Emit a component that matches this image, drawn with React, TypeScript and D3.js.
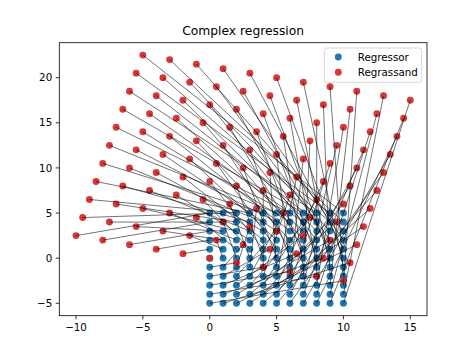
import React from "react";
import * as d3 from "d3";

const regressorX = [0, 1, 2, 3, 4, 5, 6, 7, 8, 9, 10];
const regressorY = [-5, -4, -3, -2, -1, 0, 1, 2, 3, 4, 5];

// Regressand points, one row per regressor y value (regressor x = 0..10)
const regressandRows: [number, number][][] = [
  [[10, -2.5], [10.5, -0.5], [11, 1.5], [11.5, 3.5], [12, 5.5], [12.5, 7.5], [13, 9.5], [13.5, 11.5], [14, 13.5], [14.5, 15.5], [15, 17.5]],
  [[8, -2], [8.5, 0], [9, 2], [9.5, 4], [10, 6], [10.5, 8], [11, 10], [11.5, 12], [12, 14], [12.5, 16], [13, 18]],
  [[6, -1.5], [6.5, 0.5], [7, 2.5], [7.5, 4.5], [8, 6.5], [8.5, 8.5], [9, 10.5], [9.5, 12.5], [10, 14.5], [10.5, 16.5], [11, 18.5]],
  [[4, -1], [4.5, 1], [5, 3], [5.5, 5], [6, 7], [6.5, 9], [7, 11], [7.5, 13], [8, 15], [8.5, 17], [9, 19]],
  [[2, -0.5], [2.5, 1.5], [3, 3.5], [3.5, 5.5], [4, 7.5], [4.5, 9.5], [5, 11.5], [5.5, 13.5], [6, 15.5], [6.5, 17.5], [7, 19.5]],
  [[0, 0], [0.5, 2], [1, 4], [1.5, 6], [2, 8], [2.5, 10], [3, 12], [3.5, 14], [4, 16], [4.5, 18], [5, 20]],
  [[-2, 0.5], [-1.5, 2.5], [-1, 4.5], [-0.5, 6.5], [0, 8.5], [0.5, 10.5], [1, 12.5], [1.5, 14.5], [2, 16.5], [2.5, 18.5], [3, 20.5]],
  [[-4, 1], [-3.5, 3], [-3, 5], [-2.5, 7], [-2, 9], [-1.5, 11], [-1, 13], [-0.5, 15], [0, 17], [0.5, 19], [1, 21]],
  [[-6, 1.5], [-5.5, 3.5], [-5, 5.5], [-4.5, 7.5], [-4, 9.5], [-3.5, 11.5], [-3, 13.5], [-2.5, 15.5], [-2, 17.5], [-1.5, 19.5], [-1, 21.5]],
  [[-8, 2], [-7.5, 4], [-7, 6], [-6.5, 8], [-6, 10], [-5.5, 12], [-5, 14], [-4.5, 16], [-4, 18], [-3.5, 20], [-3, 22]],
  [[-10, 2.5], [-9.5, 4.5], [-9, 6.5], [-8.5, 8.5], [-8, 10.5], [-7.5, 12.5], [-7, 14.5], [-6.5, 16.5], [-6, 18.5], [-5.5, 20.5], [-5, 22.5]],
];

const xTicks = [-10, -5, 0, 5, 10, 15];
const yTicks = [-5, 0, 5, 10, 15, 20];
const titleText = "Complex regression";
const legendLabels = ["Regressor", "Regrassand"];

const W = 474;
const H = 355;
const L = 59.3, R = 427, T = 42.7, B = 315.7;
const BLUE = "#1f77b4";
const RED = "#d62728";
const FONT = "DejaVu Sans, sans-serif";

const fmt = (v: number) => (v < 0 ? "\u2212" + Math.abs(v) : String(v));

export default function App() {
  const x = d3.scaleLinear().domain([-11.25, 16.25]).range([L, R]);
  const y = d3.scaleLinear().domain([-6.375, 23.875]).range([B, T]);

  const pairs: { bx: number; by: number; rx: number; ry: number }[] = [];
  regressorY.forEach((yy, i) => {
    regressorX.forEach((xx, j) => {
      const [rx, ry] = regressandRows[i][j];
      pairs.push({ bx: xx, by: yy, rx, ry });
    });
  });

  const r = 3.45;
  const tickLen = 3.6;

  return (
    <svg
      width={W}
      height={H}
      style={{ position: "absolute", left: 0, top: 0, display: "block", background: "#fff" }}
      fontFamily={FONT}
    >
      <rect x={0} y={0} width={W} height={H} fill="#fff" />
      <defs>
        <clipPath id="plot">
          <rect x={L} y={T} width={R - L} height={B - T} />
        </clipPath>
      </defs>
      <g clipPath="url(#plot)">
        {pairs.map((p, i) => (
          <circle key={"b" + i} cx={x(p.bx)} cy={y(p.by)} r={r} fill={BLUE} />
        ))}
        {pairs.map((p, i) => (
          <circle key={"r" + i} cx={x(p.rx)} cy={y(p.ry)} r={r} fill={RED} fillOpacity={0.92} />
        ))}
        {pairs.map((p, i) => (
          <line
            key={"l" + i}
            x1={x(p.bx)}
            y1={y(p.by)}
            x2={x(p.rx)}
            y2={y(p.ry)}
            stroke="#000"
            strokeOpacity={0.55}
            strokeWidth={1}
          />
        ))}
      </g>
      <rect x={L} y={T} width={R - L} height={B - T} fill="none" stroke="#000" strokeWidth={0.8} />
      {xTicks.map((t) => (
        <g key={"xt" + t}>
          <line x1={x(t)} x2={x(t)} y1={B} y2={B + tickLen} stroke="#000" strokeWidth={0.8} />
          <text x={x(t)} y={B + tickLen + 12} fontSize={10.3} textAnchor="middle" fill="#000">
            {fmt(t)}
          </text>
        </g>
      ))}
      {yTicks.map((t) => (
        <g key={"yt" + t}>
          <line x1={L - tickLen} x2={L} y1={y(t)} y2={y(t)} stroke="#000" strokeWidth={0.8} />
          <text x={L - tickLen - 3.5} y={y(t)} dy="0.35em" fontSize={10.3} textAnchor="end" fill="#000">
            {fmt(t)}
          </text>
        </g>
      ))}
      <text x={(L + R) / 2} y={35} fontSize={12.3} textAnchor="middle" fill="#000">
        {titleText}
      </text>
      <g>
        <rect x={324.3} y={48} width={97.4} height={34.3} rx={2.5} fill="#fff" fillOpacity={0.8} stroke="#ccc" strokeWidth={0.8} />
        {legendLabels.map((lab, i) => (
          <g key={lab}>
            <circle cx={338.3} cy={57 + i * 15.3} r={r} fill={i === 0 ? BLUE : RED} fillOpacity={i === 0 ? 1 : 0.92} />
            <text x={357.7} y={57 + i * 15.3} dy="0.35em" fontSize={10.3} fill="#000">
              {lab}
            </text>
          </g>
        ))}
      </g>
    </svg>
  );
}
